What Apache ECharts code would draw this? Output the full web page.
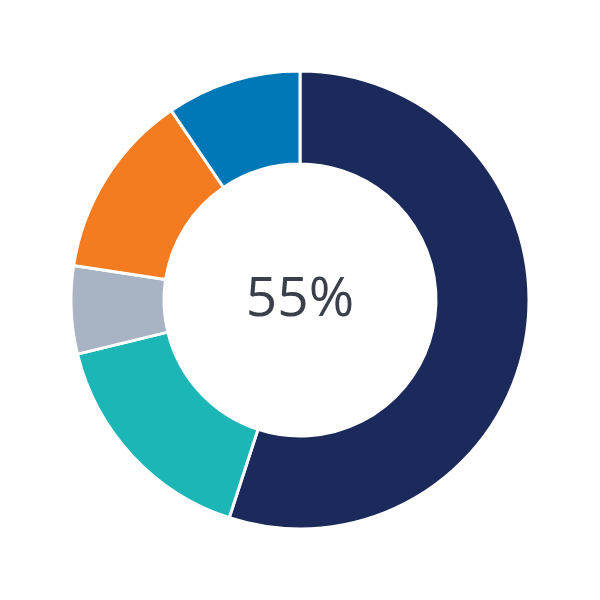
<!DOCTYPE html>
<html>
<head>
<meta charset="utf-8">
<script src="https://cdn.jsdelivr.net/npm/echarts@6/dist/echarts.min.js"></script>
<style>
  html, body { margin: 0; padding: 0; background: #fff; }
  #chart { width: 600px; height: 600px; }
</style>
</head>
<body>
<div id="chart"></div>
<script>
  // slices, clockwise from 12 o'clock
  var names = ['Navy', 'Teal', 'Grey', 'Orange', 'Blue'];
  var values = [55, 16.2, 6.2, 13.1, 9.5];
  var colors = ['#1b2a5a', '#1cb6b6', '#a8b3c3', '#f47b20', '#0077b6'];
  var centerLabel = '55%';

  var chart = echarts.init(document.getElementById('chart'));
  var data = names.map(function (n, i) {
    return { name: n, value: values[i], itemStyle: { color: colors[i] } };
  });
  var option = {
    animation: false,
    title: {
      text: centerLabel,
      left: 'center',
      top: 'middle',
      textStyle: {
        fontFamily: 'Open Sans',
        fontWeight: 'normal',
        fontSize: 55,
        color: '#3a3f4a'
      }
    },
    series: [{
      type: 'pie',
      center: ['50%', '50%'],
      radius: [136, 229],
      startAngle: 90,
      clockwise: true,
      label: { show: false },
      labelLine: { show: false },
      itemStyle: { borderColor: '#fff', borderWidth: 3 },
      data: data
    }]
  };
  chart.setOption(option);
</script>
</body>
</html>
